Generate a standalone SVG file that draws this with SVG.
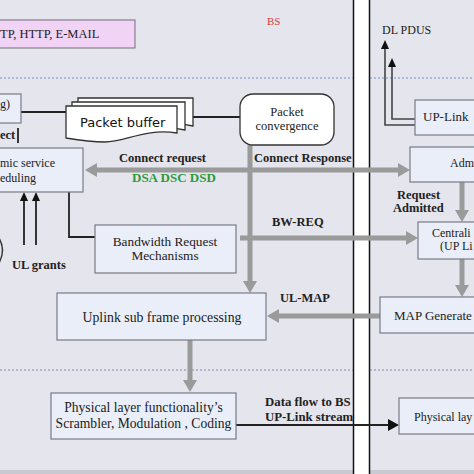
<svg xmlns="http://www.w3.org/2000/svg" width="474" height="474" viewBox="0 0 474 474">
<defs>
<style>
.box{fill:#e9eef8;stroke:#7a7a88;stroke-width:1.2}
.t{font-family:"Liberation Serif","Times New Roman",serif;font-size:12px;fill:#222}
.b{font-family:"Liberation Serif","Times New Roman",serif;font-size:12.5px;font-weight:bold;fill:#222}
.g{stroke:#9a9a9a;stroke-width:5;fill:none}
.k{stroke:#222;stroke-width:1.8;fill:none}
.doc{fill:#fff;stroke:#333;stroke-width:1.3}
</style>
<marker id="ga" markerUnits="userSpaceOnUse" markerWidth="13" markerHeight="14" refX="0" refY="7" orient="auto-start-reverse"><path d="M0,0 L12,7 L0,14 Z" fill="#9a9a9a"/></marker>
<marker id="ka" markerUnits="userSpaceOnUse" markerWidth="9" markerHeight="8" refX="0" refY="4" orient="auto"><path d="M0,0 L9,4 L0,8 Z" fill="#111"/></marker>
<marker id="kb" markerUnits="userSpaceOnUse" markerWidth="12" markerHeight="12" refX="0" refY="6" orient="auto"><path d="M0,0 L11,6 L0,12 Z" fill="#111"/></marker>
</defs>
<rect x="0" y="0" width="474" height="474" fill="#e5e5ed"/>
<rect x="0" y="470" width="474" height="4" fill="#c9c9d1"/>
<rect x="354" y="0" width="15" height="474" fill="#fff"/>
<line x1="353.5" y1="0" x2="353.5" y2="474" stroke="#111" stroke-width="1.5"/>
<line x1="369.5" y1="0" x2="369.5" y2="474" stroke="#111" stroke-width="1.5"/>
<line x1="0" y1="78" x2="353" y2="78" stroke="#6f93c4" stroke-width="1" stroke-dasharray="2,2"/>
<line x1="370" y1="78" x2="474" y2="78" stroke="#6f93c4" stroke-width="1" stroke-dasharray="2,2"/>
<line x1="0" y1="370" x2="353" y2="370" stroke="#8a80b4" stroke-width="1" stroke-dasharray="2,2"/>
<line x1="370" y1="370" x2="474" y2="370" stroke="#8a80b4" stroke-width="1" stroke-dasharray="2,2"/>

<g id="connectors">
<line class="k" x1="21" y1="112" x2="66" y2="112"/>
<line class="k" x1="193" y1="117" x2="240" y2="117"/>
<line class="k" x1="18" y1="128" x2="18" y2="143"/>
<polyline class="k" points="69,192 69,237 95,237"/>
<line class="k" x1="24" y1="245" x2="24" y2="201" marker-end="url(#ka)"/>
<line class="k" x1="36" y1="245" x2="36" y2="201" marker-end="url(#ka)"/>
<path d="M-1,238 Q6,250 -1,263" stroke="#333" stroke-width="1.5" fill="none"/>
<polyline points="415,125 385,125 385,49" stroke="#444" stroke-width="1.6" fill="none" marker-end="url(#ka)"/>
<polyline points="415,119 392,119 392,67" stroke="#444" stroke-width="1.6" fill="none" marker-end="url(#ka)"/>
<line class="g" x1="97" y1="170" x2="398" y2="170" marker-start="url(#ga)" marker-end="url(#ga)"/>
<line class="g" x1="240" y1="238" x2="406" y2="238" marker-end="url(#ga)"/>
<line class="g" x1="380" y1="316" x2="279" y2="316" marker-end="url(#ga)"/>
<line class="g" x1="250" y1="145" x2="250" y2="281" marker-end="url(#ga)"/>
<line class="g" x1="462" y1="182" x2="462" y2="210" marker-end="url(#ga)"/>
<line class="g" x1="462" y1="259" x2="462" y2="285" marker-end="url(#ga)"/>
<line class="g" x1="190" y1="340" x2="190" y2="380" marker-end="url(#ga)"/>
<line class="k" x1="236" y1="425" x2="388" y2="425" marker-end="url(#kb)"/>
<text class="b" x="119" y="162" font-size="12.8">Connect request</text>
<text class="b" x="254" y="162" font-size="12.8">Connect Response</text>
<text class="b" x="132" y="182" style="fill:#2a9a3a;font-size:13px">DSA DSC DSD</text>
<text class="b" x="272" y="226">BW-REQ</text>
<text class="b" x="280" y="302">UL-MAP</text>
<text class="b" x="397" y="199">Request</text>
<text class="b" x="393" y="212">Admitted</text>
<text class="b" x="12" y="269">UL grants</text>
<text class="b" x="0" y="139">ect</text>
<text class="b" x="265" y="406" style="font-size:12.8px">Data flow to BS</text>
<text class="b" x="265" y="421" style="font-size:12.8px">UP-Link stream</text>
</g>

<g id="app">
<rect x="-2" y="20" width="137" height="28" fill="#f1d3f5" stroke="#8a7f8f" stroke-width="1.2"/>
<text class="t" x="0" y="38" style="font-size:12.5px">TP, HTTP, E-MAIL</text>
</g>
<text x="267" y="25" font-family="Liberation Serif, serif" font-size="11" fill="#d23c3c">BS</text>
<text class="t" x="382" y="34">DL PDUS</text>

<g id="topleft">
<rect class="box" x="-2" y="94" width="23" height="29"/>
<text class="t" x="0" y="108">g)</text>
</g>

<g id="packet-buffer">
<path class="doc" d="M78,98 H193 V126 C170,120 150,130 130,132 L 78,132 Z"/>
<path class="doc" d="M72,102 H185 V130 C160,124 140,134 120,136 L 72,136 Z"/>
<path class="doc" d="M66,106 H177 V133 C145,128 125,142 105,142 C90,142 78,140 66,138 Z"/>
<text x="80" y="127" font-family="DejaVu Sans, sans-serif" font-size="13" fill="#111">Packet buffer</text>
</g>

<g id="packet-convergence">
<rect x="240" y="94" width="94" height="51" rx="13" fill="#fff" stroke="#333" stroke-width="1.3"/>
<text class="t" x="287" y="116" text-anchor="middle" style="font-size:12.5px">Packet</text>
<text class="t" x="287" y="130" text-anchor="middle" style="font-size:12.5px">convergence</text>
</g>

<g id="scheduling">
<rect class="box" x="-2" y="148" width="85" height="44"/>
<text class="t" x="0" y="167">mic service</text>
<text class="t" x="0" y="182">eduling</text>
</g>

<g id="bw-request">
<rect class="box" x="95" y="225" width="141" height="48"/>
<text class="t" x="165" y="246" text-anchor="middle" style="font-size:13.3px">Bandwidth Request</text>
<text class="t" x="165" y="260" text-anchor="middle" style="font-size:13.3px">Mechanisms</text>
</g>

<g id="uplink-sub">
<rect class="box" x="57" y="293" width="209" height="47"/>
<text class="t" x="162" y="322" text-anchor="middle" style="font-size:13.8px">Uplink sub frame processing</text>
</g>

<g id="physical">
<rect class="box" x="51" y="393" width="185" height="46"/>
<text class="t" x="143.5" y="412" text-anchor="middle" style="font-size:13.6px">Physical layer  functionality’s</text>
<text class="t" x="143.5" y="428" text-anchor="middle" style="font-size:13.6px">Scrambler, Modulation , Coding</text>
</g>

<g id="uplink-r">
<rect class="box" x="415" y="100" width="62" height="35"/>
<text class="t" x="423" y="121" style="font-size:13px">UP-Link</text>
</g>
<g id="admission">
<rect class="box" x="410" y="147" width="67" height="35"/>
<text class="t" x="450" y="167">Adm</text>
</g>
<g id="centralized">
<rect class="box" x="418" y="222" width="59" height="37"/>
<text class="t" x="432" y="237">Centrali</text>
<text class="t" x="440" y="250">(UP Li</text>
</g>
<g id="map-gen">
<rect class="box" x="380" y="297" width="97" height="36"/>
<text class="t" x="394" y="320" style="font-size:13px">MAP Generate</text>
</g>
<g id="physical-r">
<rect class="box" x="399" y="398" width="78" height="36"/>
<text class="t" x="414" y="421">Physical lay</text>
</g>
</svg>
